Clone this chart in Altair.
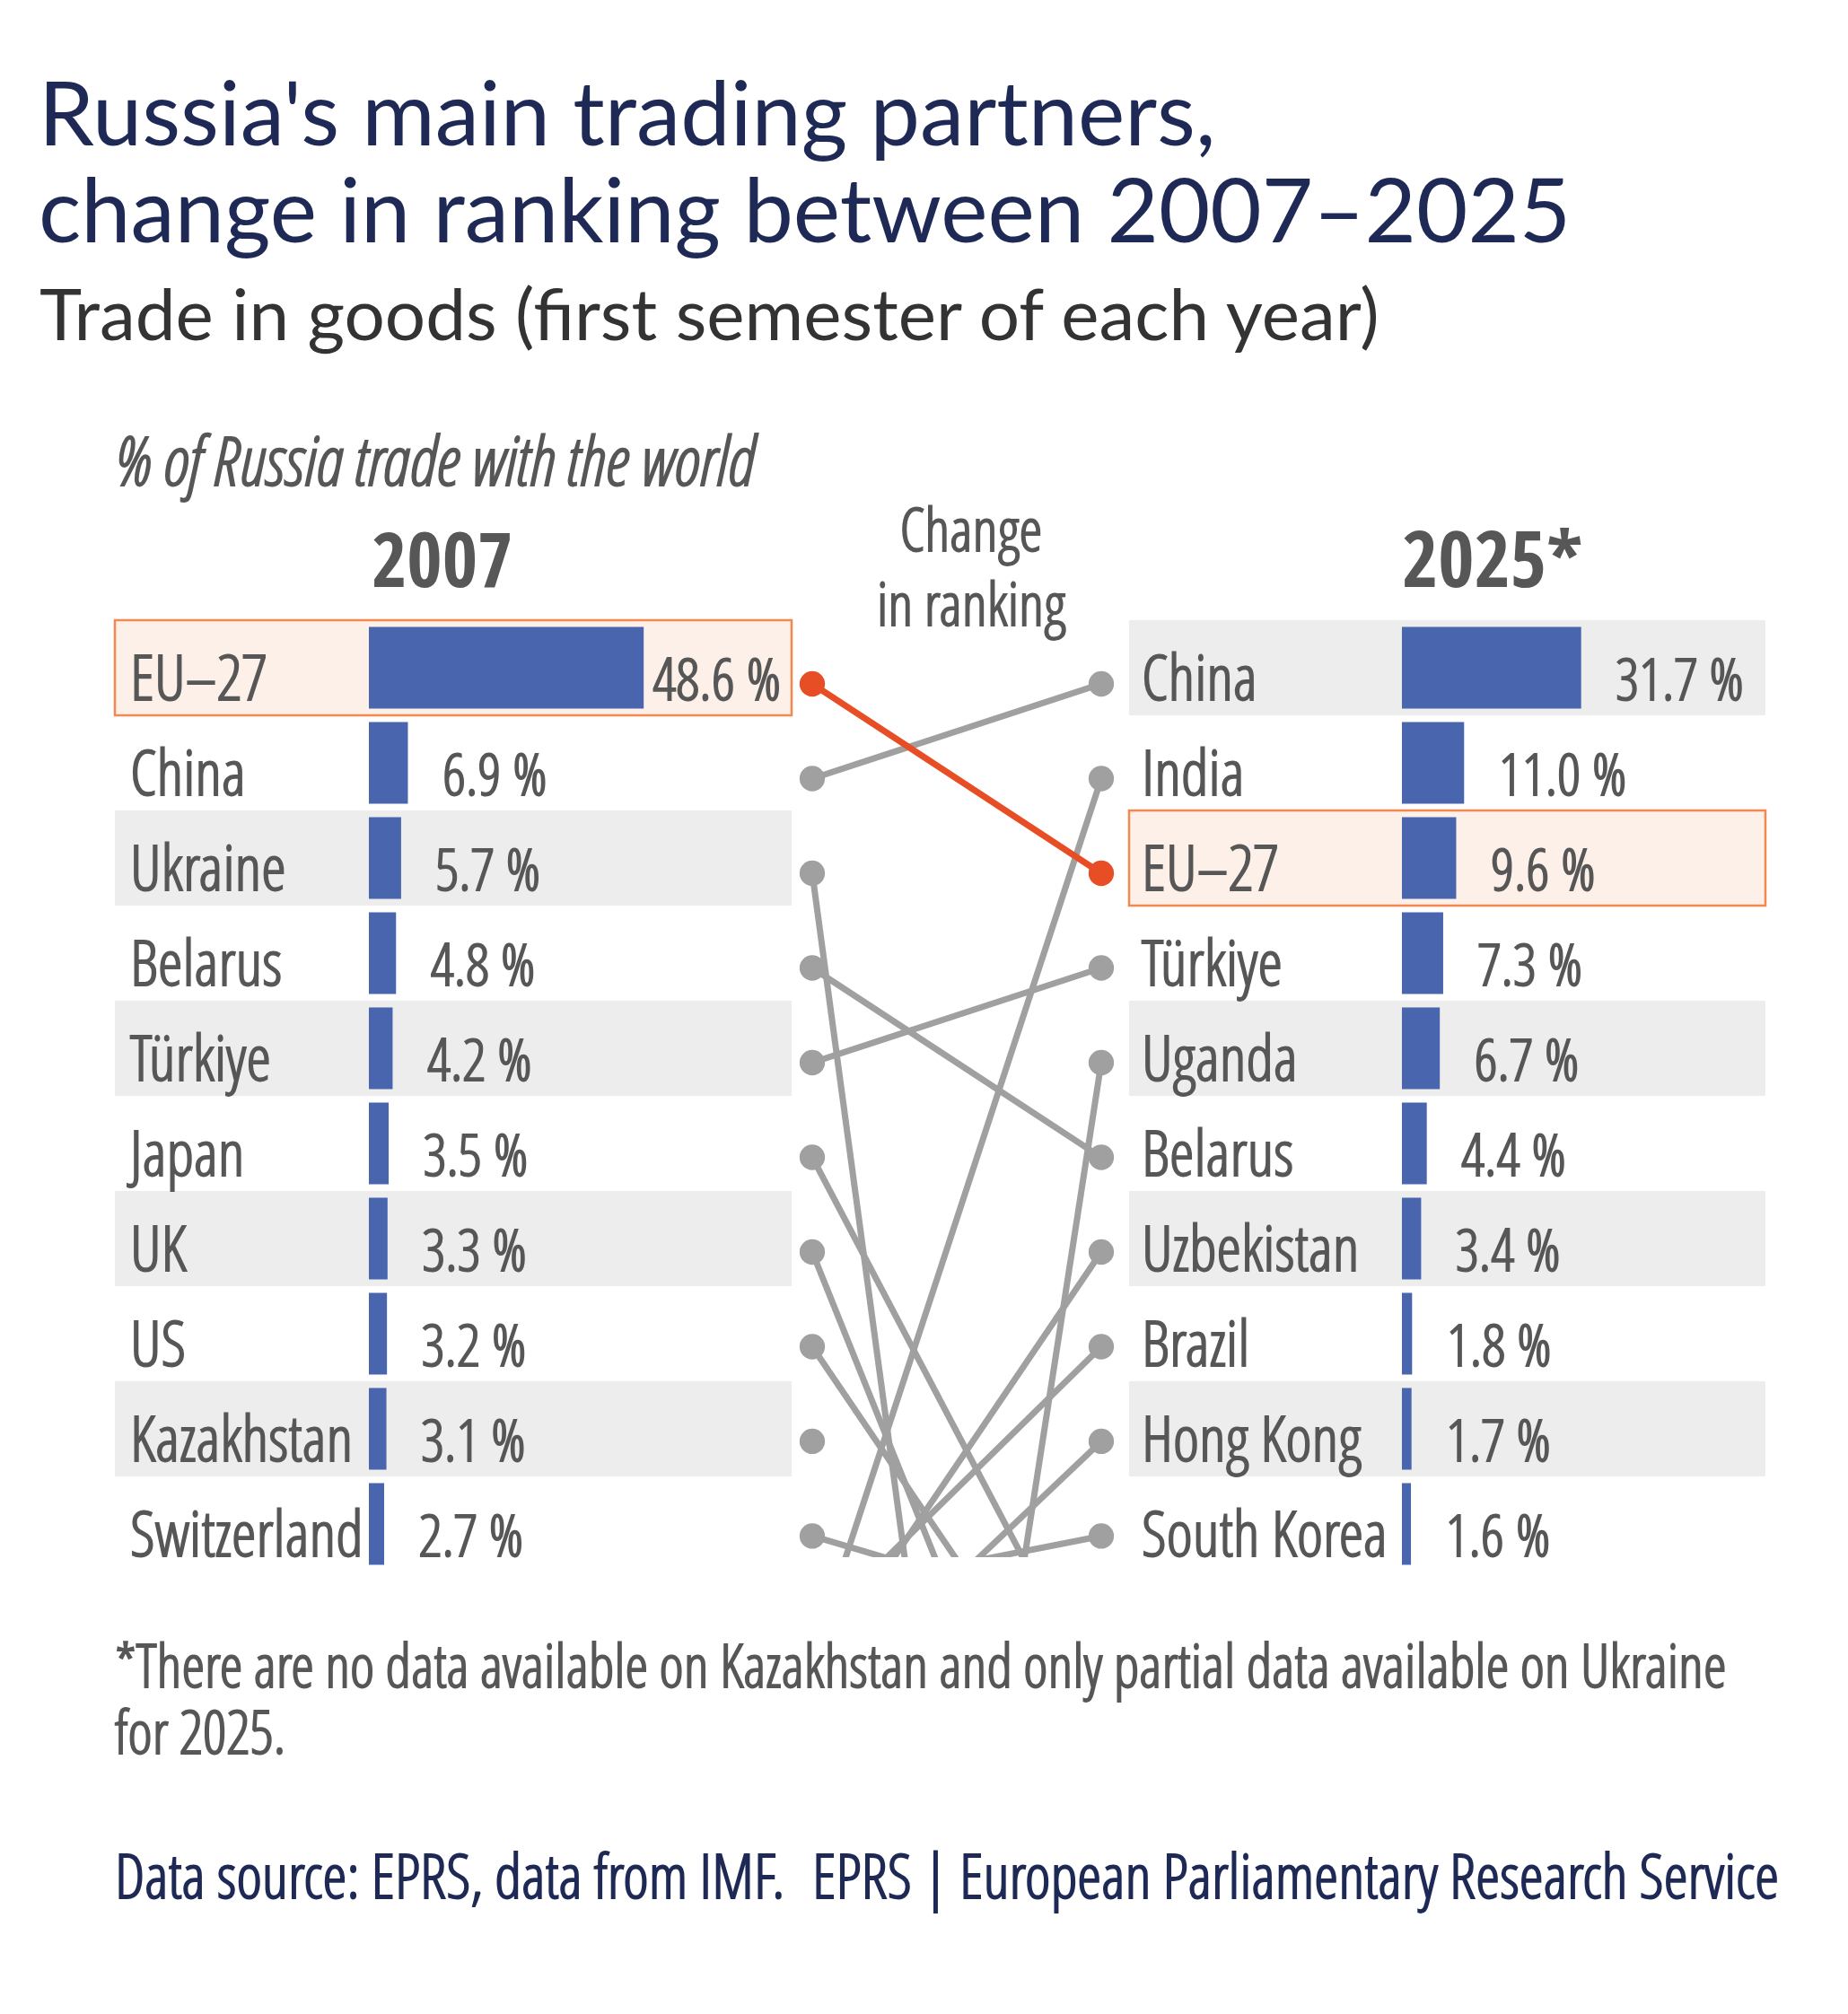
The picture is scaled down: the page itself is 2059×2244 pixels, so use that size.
import altair as alt
import pandas as pd

# --- data -------------------------------------------------------------
partners_2007 = ["EU–27", "China", "Ukraine", "Belarus", "Türkiye", "Japan",
                 "UK", "US", "Kazakhstan", "Switzerland"]
share_2007 = [48.6, 6.9, 5.7, 4.8, 4.2, 3.5, 3.3, 3.2, 3.1, 2.7]

partners_2025 = ["China", "India", "EU–27", "Türkiye", "Uganda", "Belarus",
                 "Uzbekistan", "Brazil", "Hong Kong", "South Korea"]
share_2025 = [31.7, 11.0, 9.6, 7.3, 6.7, 4.4, 3.4, 1.8, 1.7, 1.6]

# ranking positions used by the slope lines; positions past 10 lie below the list
slope_partners = ["EU–27", "China", "Ukraine", "Belarus", "Türkiye", "Japan", "UK",
                  "US", "Switzerland", "India", "Uganda", "Uzbekistan", "Brazil",
                  "Hong Kong", "South Korea"]
rank_2007 = [1, 2, 3, 4, 5, 6, 7, 8, 10, 11.3, 24.7, 11.5, 11.0, 11.9, 10.6]
rank_2025 = [3, 1, 25.6, 6, 4, 11.8, 14.6, 12.5, 10.9, 2, 5, 7, 8, 9, 10]

HIGHLIGHT = "EU–27"

# --- styling ------------------------------------------------------------
NARROW = "Open Sans Condensed Light, Roboto Condensed, sans-serif"
NARROW_BOLD = "Open Sans Condensed, Roboto Condensed, sans-serif"
TITLE_FONT = "Lato, Open Sans, sans-serif"
TXT = "#575757"
NAVY = "#1e2a55"
BAR = "#4965ad"
STRIPE = "#ededed"
HL_FILL = "#fdf0e8"
HL_STROKE = "#f4894f"
LINE_GRAY = "#a0a0a0"
RED = "#e84e25"

W_LEFT, W_MID, W_RIGHT = 754, 376, 709
H = 1060
H_MID = 1044
LABEL_SIZE = 70
VALUE_SIZE = 65
LABEL_DY = 36
# the light condensed face gets a thin outline of its own colour to reach a regular weight
THICKEN = 1.8
# value labels start a little after the bar end, but never run past the panel edge
LABEL_GAP = 6.1
LABEL_MAX = 50.2


def narrow_text(color=TXT, size=LABEL_SIZE, **kw):
    return dict(font=NARROW, fontSize=size, color=color, stroke=color,
                strokeWidth=THICKEN, **kw)


def ranking_table(names, shares):
    return pd.DataFrame({
        "partner": names,
        "share": shares,
        "stripe": [i % 2 == 0 for i in range(len(names))],
        "highlight": [n == HIGHLIGHT for n in names],
    })


def one_row():
    return alt.Chart(pd.DataFrame({"k": [0]}))


def ranking_panel(names, shares, x_domain, name_x, width):
    base = alt.Chart(ranking_table(names, shares))
    y = alt.Y("partner:N", sort=names, axis=None,
              scale=alt.Scale(paddingInner=0, paddingOuter=0))
    xscale = alt.Scale(domain=x_domain, zero=False, nice=False)
    x = alt.X("share:Q", axis=None, scale=xscale)

    stripes = base.transform_filter("datum.stripe").mark_rect(color=STRIPE).encode(y=y)
    box = base.transform_filter("datum.highlight").mark_rect(
        fill=HL_FILL, stroke=HL_STROKE, strokeWidth=2.5).encode(y=y)
    bars = base.mark_bar(color=BAR, height={"band": 0.86}).encode(x=x, y=y)
    names_txt = base.mark_text(
        align="left", baseline="alphabetic", dy=LABEL_DY, **narrow_text()
    ).encode(x=alt.value(name_x), y=y, text="partner:N")
    values_txt = base.transform_calculate(
        label="format(datum.share, '.1f') + '\u2009%'",
        label_pos=f"min(datum.share + {LABEL_GAP}, {LABEL_MAX})",
    ).mark_text(
        align="left", baseline="alphabetic", dy=LABEL_DY, **narrow_text(size=VALUE_SIZE)
    ).encode(x=alt.X("label_pos:Q", axis=None, scale=xscale), y=y, text="label:N")
    return alt.layer(stripes, box, bars, names_txt, values_txt).properties(
        width=width, height=H)


left = ranking_panel(partners_2007, share_2007, [-44.92, 74.76], 17, W_LEFT)
right = ranking_panel(partners_2025, share_2025, [-48.25, 64.29], 14, W_RIGHT)

# headings and notes that sit around the left ranking
title = one_row().mark_text(
    text=["Russia's main trading partners,", "change in ranking between 2007–2025"],
    align="left", baseline="alphabetic", font=TITLE_FONT, fontSize=99,
    lineHeight=108, color=NAVY
).encode(x=alt.value(-85), y=alt.value(-529))
subtitle = one_row().mark_text(
    text="Trade in goods (first semester of each year)",
    align="left", baseline="alphabetic", font=TITLE_FONT, fontSize=80, color="#333333"
).encode(x=alt.value(-84), y=alt.value(-312))
unit = one_row().mark_text(
    text="% of Russia trade with the world", align="left", baseline="alphabetic",
    fontStyle="italic", **narrow_text(size=75)
).encode(x=alt.value(0), y=alt.value(-150))
year_left = one_row().mark_text(
    text="2007", align="left", baseline="alphabetic", font=NARROW_BOLD,
    fontSize=85, fontWeight="bold", color=TXT
).encode(x=alt.value(286), y=alt.value(-37))
footnote_1 = one_row().mark_text(
    text="*There are no data available on Kazakhstan and only partial data available on Ukraine",
    align="left", baseline="alphabetic", **narrow_text(size=65.5)
).encode(x=alt.value(0), y=alt.value(1189))
footnote_2 = one_row().mark_text(
    text="for 2025.", align="left", baseline="alphabetic", **narrow_text(size=65.5)
).encode(x=alt.value(0), y=alt.value(1263))
source = one_row().mark_text(
    text="Data source: EPRS, data from IMF.\u00a0 EPRS | European Parliamentary Research Service",
    align="left", baseline="alphabetic", **narrow_text(color=NAVY, size=68.6)
).encode(x=alt.value(0), y=alt.value(1424))

left = alt.layer(left, title, subtitle, unit, year_left, footnote_1, footnote_2, source)

year_right = one_row().mark_text(
    text="2025*", align="left", baseline="alphabetic", font=NARROW_BOLD,
    fontSize=87, fontWeight="bold", color=TXT
).encode(x=alt.value(304), y=alt.value(-37))
right = alt.layer(right, year_right)

# --- slope panel --------------------------------------------------------
rows = []
for p, r0, r1 in zip(slope_partners, rank_2007, rank_2025):
    rows.append({"partner": p, "side": 0, "rank": r0})
    rows.append({"partner": p, "side": 1, "rank": r1})
lines_df = pd.DataFrame(rows)

dots_df = pd.DataFrame(
    [{"partner": p, "side": 0, "rank": i + 1} for i, p in enumerate(partners_2007)]
    + [{"partner": p, "side": 1, "rank": i + 1} for i, p in enumerate(partners_2025)]
)

sx = alt.X("side:Q", axis=None,
           scale=alt.Scale(domain=[-0.0714, 1.0963], zero=False, nice=False))
sy = alt.Y("rank:Q", axis=None,
           scale=alt.Scale(domain=[0.327, 10.223], reverse=True, zero=False, nice=False))

gray_lines = alt.Chart(lines_df).transform_filter(f"datum.partner != '{HIGHLIGHT}'").mark_line(
    color=LINE_GRAY, strokeWidth=7, clip=True
).encode(x=sx, y=sy, detail="partner:N")
red_line = alt.Chart(lines_df).transform_filter(f"datum.partner == '{HIGHLIGHT}'").mark_line(
    color=RED, strokeWidth=7, clip=True
).encode(x=sx, y=sy, detail="partner:N")
dots = alt.Chart(dots_df).mark_circle(size=800, opacity=1).encode(
    x=sx, y=sy,
    color=alt.condition(f"datum.partner == '{HIGHLIGHT}'", alt.value(RED), alt.value(LINE_GRAY)),
)
change_label = one_row().mark_text(
    text=["Change", "in ranking"], align="center", baseline="alphabetic",
    lineHeight=83, **narrow_text(size=66)
).encode(x=alt.value(200), y=alt.value(-77))

middle = alt.layer(gray_lines, red_line, dots, change_label).properties(
    width=W_MID, height=H_MID)

chart = alt.hconcat(left, middle, right, spacing=0, bounds="flush").configure_view(
    stroke=None
).properties(
    padding={"left": 43, "top": 83, "right": 20, "bottom": 30},
    background="white",
)

chart.save("out.html", embed_options={"renderer": "svg", "actions": False})
